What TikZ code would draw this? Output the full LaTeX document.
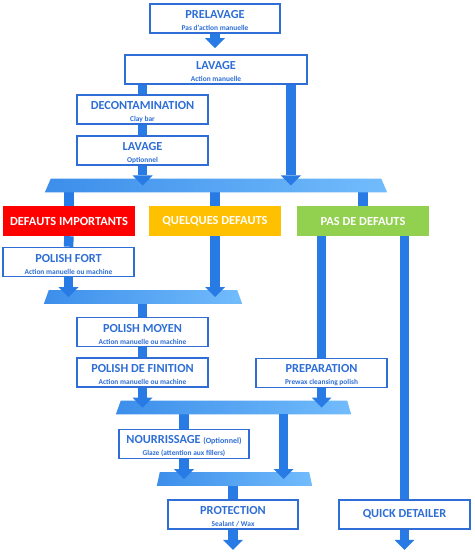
\documentclass[tikz,border=0pt]{standalone}
\usepackage{fontspec}
\setmainfont{Carlito}
\usetikzlibrary{arrows.meta,calc}
\definecolor{abl}{RGB}{40,122,228}
\definecolor{tbl}{RGB}{46,110,214}
\definecolor{barL}{RGB}{60,142,234}
\definecolor{barR}{RGB}{114,188,252}
\definecolor{dred}{RGB}{255,0,0}
\definecolor{dorange}{RGB}{255,192,0}
\definecolor{dgreen}{RGB}{146,208,80}
\pgfdeclarelayer{bg}
\pgfdeclarelayer{mid}
\pgfsetlayers{bg,mid,main}
\newcommand\boxtxt[2]{{\fontsize{12.3}{12}\selectfont\rule{0pt}{13pt}#1}\\{\fontsize{7.4}{12}\selectfont #2}}
\begin{document}
\begin{tikzpicture}[x=1pt,y=-1pt,
  box/.style={draw=tbl, line width=1.6pt, fill=white, text=tbl, minimum width=#1,
    minimum height=29pt, inner sep=0pt, align=center,
    font=\fontsize{12.3}{12}\selectfont\bfseries},
  cbox/.style={fill=#1, text=white, minimum width=132pt, minimum height=30pt,
    inner sep=0pt, font=\fontsize{12.4}{12}\selectfont\bfseries},
  barnode/.style={minimum width=#1, minimum height=13.5pt, inner sep=0pt},
  shaft/.style={line width=9.5pt, draw=abl},
  arr/.style={line width=9.5pt, draw=abl,
    -{Triangle[width=20pt,length=10pt,line width=0pt]}},
  barshade/.style={left color=barL, right color=barR}
]
\useasboundingbox (0,0) rectangle (474,553);

% boxes
\node[box=130pt] (pre) at (215,18.5) {\boxtxt{PRELAVAGE}{Pas d'action manuelle}};
\node[box=182pt] (lav) at (216,69.5) {\boxtxt{LAVAGE}{Action manuelle}};
\node[box=131pt] (deco) at (142.5,109.5) {\boxtxt{DECONTAMINATION}{Clay bar}};
\node[box=131pt] (lav2) at (142.5,150.5) {\boxtxt{LAVAGE}{Optionnel}};
\node[cbox=dred] (red) at (69,221) {DEFAUTS IMPORTANTS};
\node[cbox=dorange] (orange) at (215,221) {QUELQUES DEFAUTS};
\node[cbox=dgreen] (green) at (363,221) {PAS DE DEFAUTS};
\node[box=131pt] (pf) at (68.5,262) {\boxtxt{POLISH FORT}{Action manuelle ou machine}};
\node[box=131pt] (pm) at (142.5,332) {\boxtxt{POLISH MOYEN}{Action manuelle ou machine}};
\node[box=131pt] (pdf) at (142.5,372.5) {\boxtxt{POLISH DE FINITION}{Action manuelle ou machine}};
\node[box=131pt] (prep) at (321.5,373) {\boxtxt{PREPARATION}{Prewax cleansing polish}};
\node[box=130pt] (nour) at (184,444) {\boxtxt{NOURRISSAGE {\fontsize{8}{12}\selectfont(Optionnel)}}{Glaze (attention aux fillers)}};
\node[box=130pt] (prot) at (233,514.5) {\boxtxt{PROTECTION}{Sealant / Wax}};
\node[box=131pt] (qd) at (404.5,514.5) {QUICK DETAILER};

% bars (invisible nodes carrying the shaded trapezoids)
\node[barnode=342pt] (bar1) at (216,185.5) {};
\node[barnode=198pt] (bar2) at (143,297) {};
\node[barnode=235pt] (bar3) at (233.5,407.5) {};
\node[barnode=155pt] (bar4) at (234.5,479) {};

\coordinate (lavr) at ([xshift=-17pt]lav.south east);
\coordinate (b3r) at ([xshift=50pt]bar3.center);
\coordinate (protend) at ([yshift=-20pt]prot.south);
\coordinate (qdend) at ([yshift=-20pt]qd.south);

\begin{pgfonlayer}{bg}
  \fill[white] (0,0) rectangle (474,553);
  \draw[shaft] (deco.center |- lav.south) -- (lav2.north);
  \draw[shaft] (red |- bar1.center) -- (red.north);
  \draw[shaft] (orange.center |- bar1.center) -- (orange.north);
  \draw[shaft] (green |- bar1.center) -- (green.north);
  \draw[shaft] (red.south) -- (pf.north);
  \draw[shaft] (pm |- bar2.center) -- (pdf.north);
  \draw[shaft] (prep.north |- green.south) -- (prep.north);
  \draw[shaft] (qd.north |- green.south) -- (qd.north);
  \draw[shaft] (nour |- bar3.center) -- (nour.north);
  \draw[shaft] (prot |- bar4.center) -- (prot.north);
\end{pgfonlayer}

\begin{pgfonlayer}{mid}
  \shade[barshade] ([xshift=6pt]bar1.north west) -- ([xshift=-6pt]bar1.north east)
     -- (bar1.south east) -- (bar1.south west) -- cycle;
  \shade[barshade] ([xshift=5pt]bar2.north west) -- ([xshift=-5pt]bar2.north east)
     -- (bar2.south east) -- (bar2.south west) -- cycle;
  \shade[barshade] ([xshift=5pt]bar3.north west) -- ([xshift=-4pt]bar3.north east)
     -- (bar3.south east) -- (bar3.south west) -- cycle;
  \shade[barshade] ([xshift=3pt]bar4.north west) -- ([xshift=-3pt]bar4.north east)
     -- (bar4.south east) -- (bar4.south west) -- cycle;

  \draw[arr] (pre.south) -- ([yshift=6pt]pre.south |- lav.north);
  \draw[arr] (lavr) -- (lavr |- bar1.center);
  \draw[arr] (lav2.south) -- (lav2 |- bar1.center);
  \draw[arr] (pf.south) -- (pf |- bar2.center);
  \draw[arr] (orange.south) -- (orange |- bar2.center);
  \draw[arr] (pdf.south) -- (pdf |- bar3.center);
  \draw[arr] (prep.south) -- (prep |- bar3.center);
  \draw[arr] (b3r |- bar3.south) -- (b3r |- bar4.center);
  \draw[arr] (nour.south) -- (nour |- bar4.center);
  \draw[arr] (prot.south) -- (protend);
  \draw[arr] (qd.south) -- (qdend);
\end{pgfonlayer}
\end{tikzpicture}
\end{document}
